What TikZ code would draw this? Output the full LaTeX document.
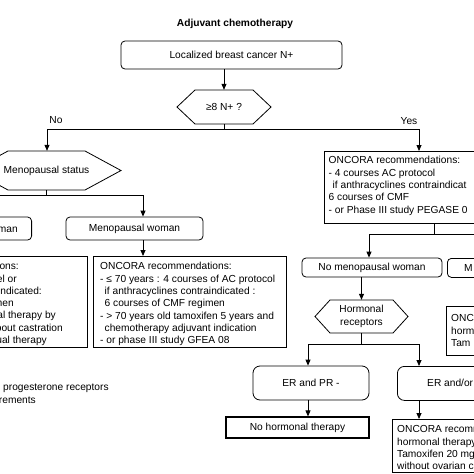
\documentclass[tikz,border=0pt]{standalone}
\usepackage{fontspec}
\setmainfont{Liberation Sans}
\usetikzlibrary{arrows.meta,calc}
\newcommand{\hexshape}[4]{\draw[hexline] ($(#1)+(-#2,-#3)$) -- ($(#1)+(#2,-#3)$) -- ($(#1)+(#2+#4,0)$) -- ($(#1)+(#2,#3)$) -- ($(#1)+(-#2,#3)$) -- ($(#1)+(-#2-#4,0)$) -- cycle;}
\begin{document}
\begin{tikzpicture}[x=1pt,y=-1pt,
  every node/.style={inner sep=0pt, font=\fontsize{10.2}{12.3}\selectfont},
  ttl/.style={font=\fontsize{10.2}{12.3}\selectfont\bfseries},
  rbox/.style={draw, line width=0.8pt, rounded corners=4pt},
  sbox/.style={draw, line width=1.2pt},
  hexline/.style={line width=0.8pt, line join=miter},
  conn/.style={line width=0.8pt},
  arr/.style={conn, -{Triangle[length=6pt,width=5pt]}},
  para/.style={align=left, anchor=north west},
]
\useasboundingbox (0,0) rectangle (474,474);
\clip (0,0) rectangle (474,474);
\fill[white] (0,0) rectangle (474,474);

% ---------- nodes ----------
\node[ttl] (title) at (235,24) {Adjuvant chemotherapy};
\node[rbox, minimum width=221pt, minimum height=28pt] (start) at (231.5,55) {Localized breast cancer N+};
\node[minimum width=58pt, minimum height=34pt] (q) at (224,107) {≥8 N+ ?};
\hexshape{q}{29}{17}{18}

\node (no) at (56,120) {No};
\node (yes) at (409,121) {Yes};

\node[minimum width=77pt, minimum height=39pt] (ms) at (46.5,170.5) {Menopausal status};
\hexshape{ms}{38.5}{19.5}{36}

\node[rbox, minimum width=137pt, minimum height=23pt] (mw) at (134.5,228.5) {Menopausal woman};
\node[rbox, minimum width=126pt, minimum height=23pt, anchor=east] (lw) at (32,228.5) {};
\node[anchor=base east] (lwt) at (18,232.2) {man};

\node[sbox, minimum width=193pt, minimum height=91pt, anchor=north west] (mid) at (93,256) {};
\node[para] (midt) at (100,261.7) {\rule{0pt}{8pt}ONCORA recommendations:\\- ≤ 70 years : 4 courses of AC protocol\\\hspace*{4.5pt}if anthracyclines contraindicated :\\\hspace*{4.5pt}6 courses of CMF regimen\\- > 70 years old tamoxifen 5 years and\\\hspace*{4.5pt}chemotherapy adjuvant indication\\- or phase III study GFEA 08};

\node[sbox, minimum width=150pt, minimum height=91pt, anchor=north east] (lb) at (88,256) {};
\node[anchor=base east] (l1) at (19,269.7) {ons:};
\node[anchor=base east] (l2) at (17,282) {el or};
\node[anchor=base east] (l3) at (42,294.3) {ndicated:};
\node[anchor=base east] (l4) at (14,306.6) {men};
\node[anchor=base east] (l5) at (56,318.9) {al therapy by};
\node[anchor=base east] (l6) at (63,331.2) {bout castration};
\node[anchor=base east] (l7) at (47,343.5) {ual therapy};

\node[anchor=base west] (bl1) at (3,390.7) {progesterone receptors};
\node[anchor=base east] (bl2) at (36,403.7) {rements};

\node[sbox, minimum width=200pt, minimum height=72pt, anchor=north west] (rb) at (324,151) {};
\node[para] (rbt) at (328.5,155.7) {\rule{0pt}{8pt}ONCORA recommendations:\\- 4 courses AC protocol\\\hspace*{4pt}if anthracyclines contraindicat\\6 courses of CMF\\- or Phase III study PEGASE 0};

\node[rbox, minimum width=140pt, minimum height=19pt] (nmr) at (372,267.5) {No menopausal woman};
\node[rbox, minimum width=140pt, minimum height=19pt, anchor=north west] (mwr) at (447,258) {};
\node[anchor=base west] (mwrt) at (464,271) {M};

\node[align=center, minimum width=63pt, minimum height=33pt] (hr) at (361.5,316.5) {Hormonal\\receptors};
\hexshape{hr}{31.5}{16.5}{15}

\node[sbox, minimum width=100pt, minimum height=49pt, anchor=north west] (onc) at (446,306) {};
\node[para] (onct) at (451,313.7) {\rule{0pt}{8pt}ONC\\horm\\Tam};

\node[rbox, rounded corners=7pt, minimum width=116pt, minimum height=34pt] (erm) at (311,383) {ER and PR -};
\node[rbox, rounded corners=7pt, minimum width=150pt, minimum height=34pt, anchor=north west] (erp) at (397,366) {};
\node[anchor=base west] (erpt) at (427,386.7) {ER and/or};

\node[sbox, minimum width=143pt, minimum height=21pt] (nht) at (297.5,427.5) {No hormonal therapy};
\node[sbox, minimum width=200pt, minimum height=53pt, anchor=north west] (brb) at (392,419) {};
\node[para] (brbt) at (397,424.5) {\rule{0pt}{8pt}ONCORA recomm\\hormonal therapy\\Tamoxifen 20 mg\\without ovarian c};

% ---------- coordinates ----------
\coordinate (qs) at (224,129);
\coordinate (noc) at (47,129);
\coordinate (yesc) at (419,129);
\coordinate (msj) at (46.5,195);
\coordinate (msl) at (-20,195);
\coordinate (msr) at (143,195);
\coordinate (rbs) at (434,234);
\coordinate (rbl) at (369,234);
\coordinate (rbr) at (500,234);
\coordinate (hrl) at (308,344);
\coordinate (hrr) at (419,344);

% ---------- connectors ----------
\draw[arr] (start.south -| q.north) -- (q.north);
\draw[conn] (q.south) -- (qs);
\draw[conn] (noc) -- (yesc);
\draw[arr] (noc) -- (noc |- ms.north);
\draw[conn] (ms.south) -- (msj);
\draw[conn] (msl) -- (msr);
\draw[arr] (msr) -- (msr |- mw.north);
\draw[arr] (msr |- mw.south) -- (msr |- mid.north);

\draw[arr] (yesc) -- (yesc |- rb.north);
\draw[conn] (rbs |- rb.south) -- (rbs);
\draw[conn] (rbl) -- (rbr);
\draw[arr] (rbl) -- (rbl |- nmr.north);
\draw[arr] (nmr.south -| hr.north) -- (hr.north);
\draw[conn] (hr.south) -- (hr.south |- hrl);
\draw[conn] (hrl) -- (hrr);
\draw[arr] (hrl) -- (hrl |- erm.north);
\draw[arr] (hrr) -- (hrr |- erp.north);
\draw[arr] (hrl |- erm.south) -- (hrl |- nht.north);
\draw[arr] (hrr |- erp.south) -- (hrr |- brb.north);
\end{tikzpicture}
\end{document}
